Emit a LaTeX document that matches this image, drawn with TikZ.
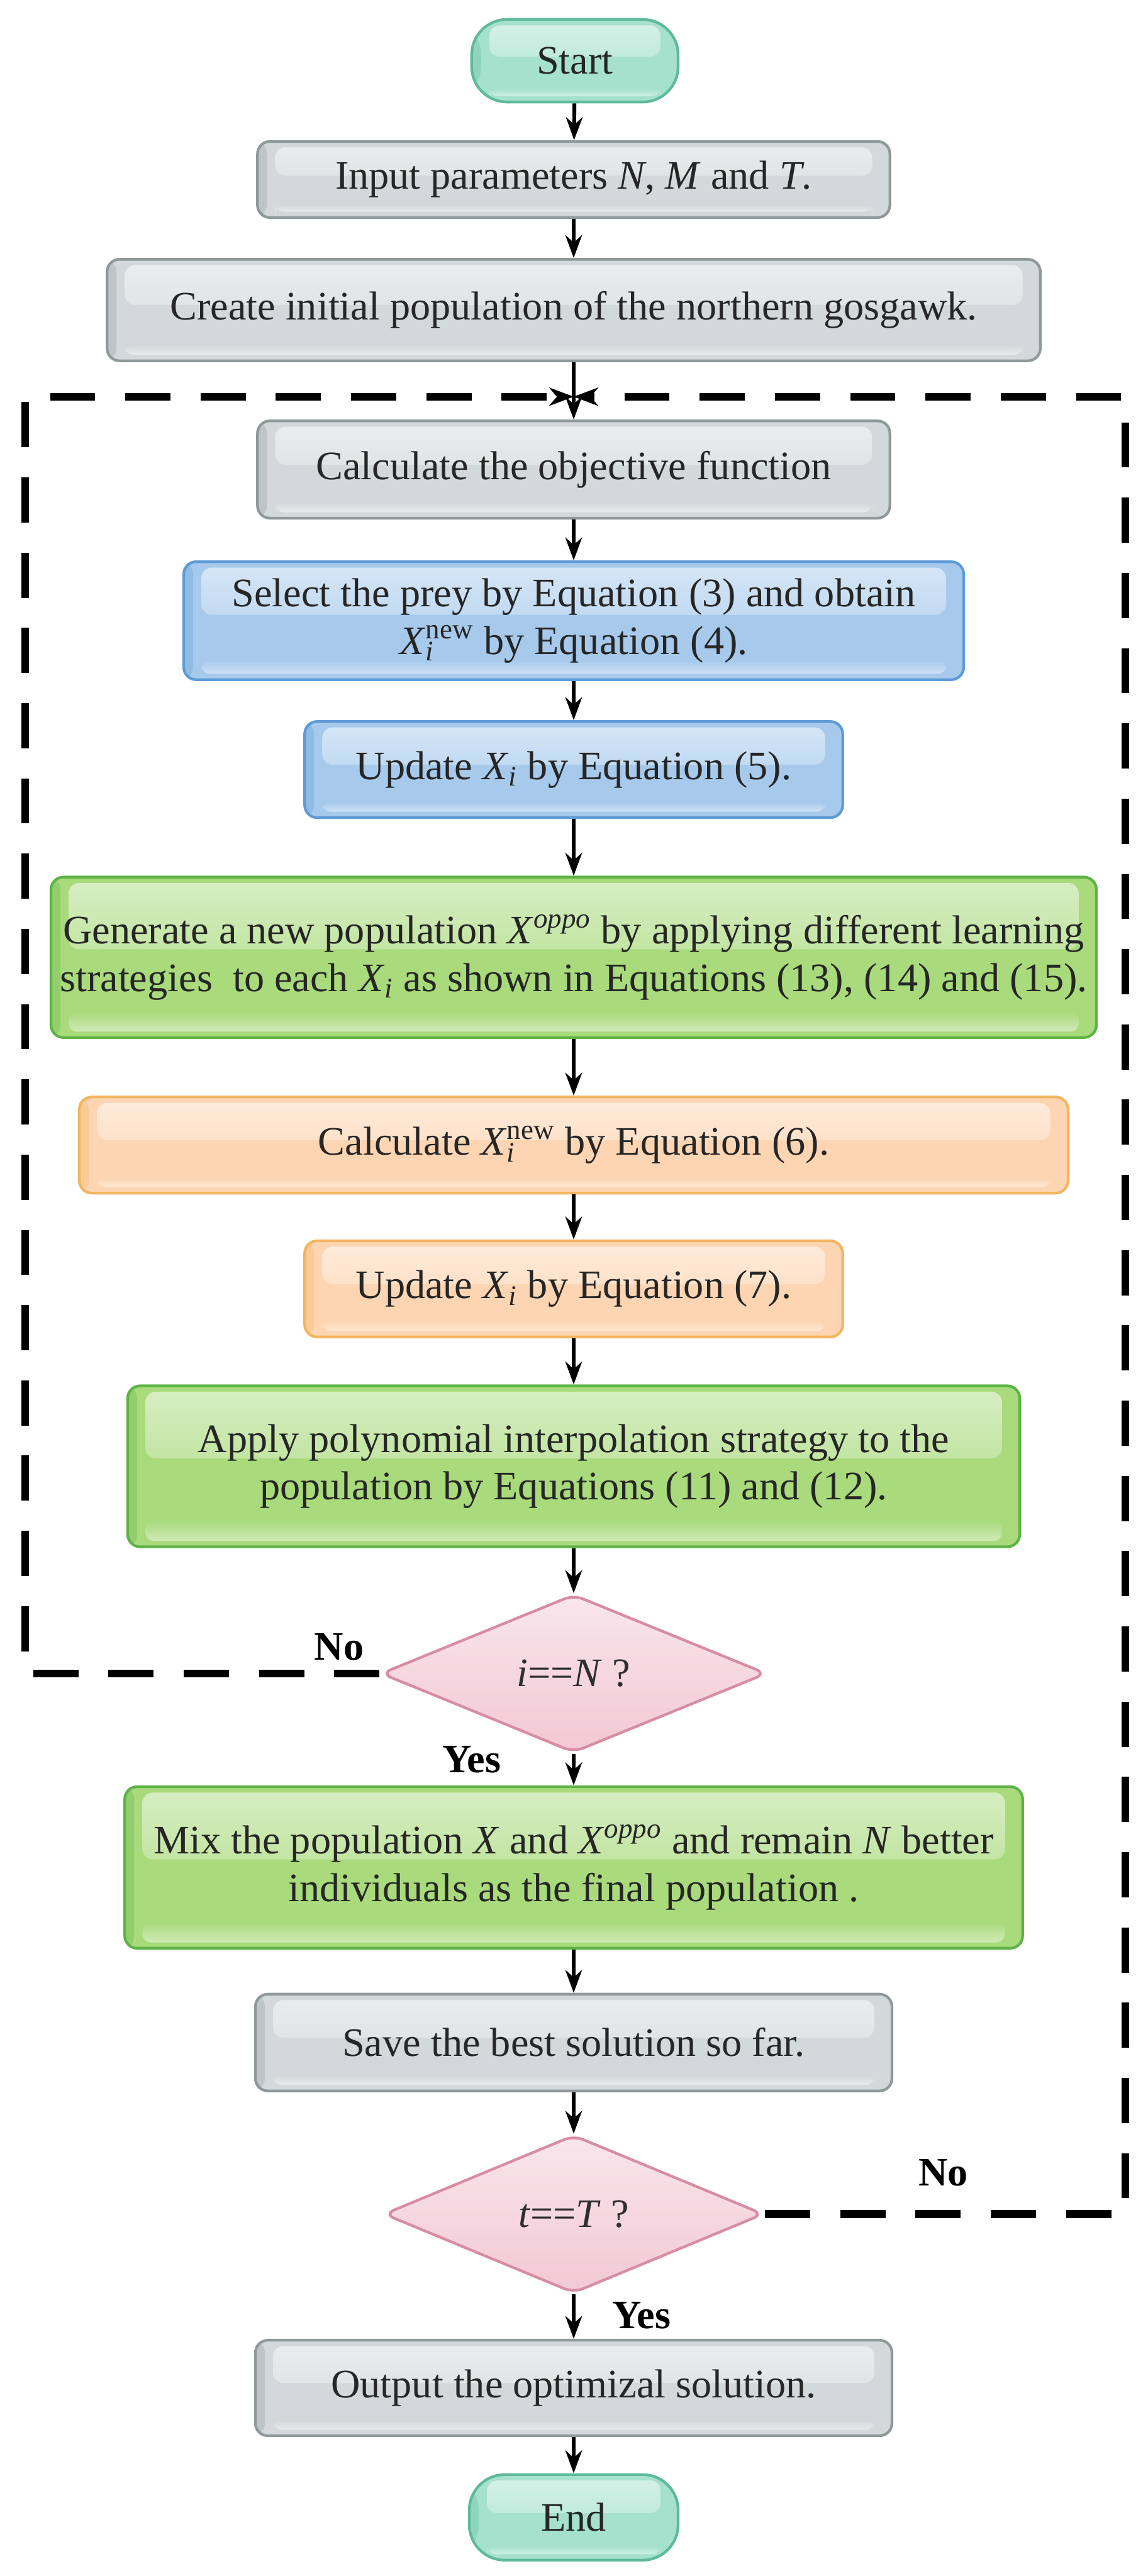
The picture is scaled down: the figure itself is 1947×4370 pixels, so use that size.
\documentclass[tikz,border=0pt]{standalone}
\usepackage{fontspec}
\setmainfont{Liberation Serif}
\usetikzlibrary{shapes.geometric,arrows.meta,calc}

\definecolor{grayF}{HTML}{D3D9DA}
\definecolor{grayD}{HTML}{8F999A}
\definecolor{blueF}{HTML}{A7CAEC}
\definecolor{blueD}{HTML}{5E9BD6}
\definecolor{greenF}{HTML}{A9DA7C}
\definecolor{greenD}{HTML}{5DB346}
\definecolor{orgF}{HTML}{FDD5B2}
\definecolor{orgD}{HTML}{F2B561}
\definecolor{pinkF}{HTML}{F2C8D5}
\definecolor{pinkD}{HTML}{D88CA3}
\definecolor{tealF}{HTML}{A6E1CE}
\definecolor{tealD}{HTML}{5DBA9C}

\newcommand{\XI}{\textit{X}\textsubscript{\textit{i}}}
\newcommand{\XInew}{\textit{X}\rlap{\textsubscript{\textit{i}}}\textsuperscript{new}}
\newcommand{\Xoppo}{\textit{X}\textsuperscript{\textit{oppo}}}

\tikzset{
  pbox/.style 2 args={draw=#2, fill=#1, line width=1.3pt, rounded corners=6pt,
    align=center, inner sep=0pt, text=black!85,
    font=\fontsize{19.5}{23}\selectfont,
    path picture={
      \shade[top color=#1!45!white, bottom color=#1, rounded corners=5pt]
        ([xshift=3mm,yshift=-1mm]path picture bounding box.north west) rectangle
        ($(path picture bounding box.north east)!0.45!(path picture bounding box.south east)+(-3mm,0)$);
      \shade[top color=#1, bottom color=#1!55!white, rounded corners=4pt]
        ($(path picture bounding box.south west)!0.16!(path picture bounding box.north west)+(3mm,0)$) rectangle
        ([xshift=-3mm,yshift=1mm]path picture bounding box.south east);
      \fill[#2, opacity=0.3]
        (path picture bounding box.south west) rectangle
        ([xshift=1.6mm]path picture bounding box.north west);
    }},
  graybox/.style={pbox={grayF}{grayD}},
  bluebox/.style={pbox={blueF}{blueD}},
  greenbox/.style={pbox={greenF}{greenD}},
  orgbox/.style={pbox={orgF}{orgD}},
  termbox/.style={pbox={tealF}{tealD}, rounded corners=6mm},
  decide/.style={shape=diamond, draw=pinkD, line width=1.3pt, rounded corners=5pt,
    top color=pinkF!45!white, bottom color=pinkF, inner sep=0pt,
    text=black!82, font=\fontsize{19.5}{23}\selectfont},
  lab/.style={font=\fontsize{19.5}{23}\selectfont\bfseries, text=black, inner sep=0pt},
  flow/.style={line width=1.8pt, -{Stealth[length=11pt,width=8pt]}},
  loopline/.style={line width=3.7pt, dash pattern=on 21.8pt off 14.5pt,
    -{Stealth[length=12pt,width=9pt,line width=0pt]}}
}

\begin{document}
\begin{tikzpicture}[x=0.01cm,y=-0.01cm]
\useasboundingbox (0,0) rectangle (1947,4370);

\node[termbox, minimum width=3.5cm, minimum height=1.40cm] (start) at (975,103) {Start};
\node[graybox, minimum width=10.72cm, minimum height=1.29cm] (input) at (973,304.5) {Input parameters \textit{N}, \textit{M} and \textit{T}.};
\node[graybox, minimum width=15.82cm, minimum height=1.72cm] (create) at (973,526) {Create initial population of the northern gosgawk.};
\coordinate (join) at (973,673);
\node[graybox, minimum width=10.72cm, minimum height=1.65cm] (calc) at (973,796.5) {Calculate the objective function};
\node[bluebox, minimum width=13.22cm, minimum height=2.00cm] (select) at (973,1053) {Select the prey by Equation (3) and obtain\\ \XInew{} by Equation (4).};
\node[bluebox, minimum width=9.12cm, minimum height=1.63cm] (upd5) at (973,1305.5) {Update \XI{} by Equation (5).};
\node[greenbox, minimum width=17.72cm, minimum height=2.72cm] (gen) at (973,1624) {Generate a new population \Xoppo{} by applying different learning\\ strategies~ to each \XI{} as shown in Equations (13), (14) and (15).};
\node[orgbox, minimum width=16.76cm, minimum height=1.63cm] (calc6) at (973,1942.5) {Calculate \XInew{} by Equation (6).};
\node[orgbox, minimum width=9.12cm, minimum height=1.63cm] (upd7) at (973,2186.5) {Update \XI{} by Equation (7).};
\node[greenbox, minimum width=15.12cm, minimum height=2.73cm] (apply) at (973,2487.5) {Apply polynomial interpolation strategy to the\\ population by Equations (11) and (12).};
\node[decide, minimum width=6.54cm, minimum height=2.68cm] (d1) at (973,2839) {\textit{i}==\textit{N} ?};
\node[greenbox, minimum width=15.22cm, minimum height=2.74cm] (mix) at (973,3168) {Mix the population \textit{X} and \Xoppo{} and remain \textit{N} better\\ individuals as the final population .};
\node[graybox, minimum width=10.79cm, minimum height=1.64cm] (save) at (973,3465) {Save the best solution so far.};
\node[decide, minimum width=6.44cm, minimum height=2.68cm] (d2) at (973,3756) {\textit{t}==\textit{T} ?};
\node[graybox, minimum width=10.79cm, minimum height=1.62cm] (out) at (973,4051) {Output the optimizal solution.};
\node[termbox, minimum width=3.54cm, minimum height=1.45cm] (end) at (973,4270.5) {End};

\node[lab] (no1) at (575,2794) {No};
\node[lab] (yes1) at (800,2985) {Yes};
\node[lab] (no2) at (1600,3686) {No};
\node[lab] (yes2) at (1088,3928) {Yes};

\draw[flow] (start) -- (input);
\draw[flow] (input) -- (create);
\draw[flow] (create) -- (calc);
\draw[flow] (calc) -- (select);
\draw[flow] (select) -- (upd5);
\draw[flow] (upd5) -- (gen);
\draw[flow] (gen) -- (calc6);
\draw[flow] (calc6) -- (upd7);
\draw[flow] (upd7) -- (apply);
\draw[flow] (apply) -- (d1);
\draw[flow] (d1) -- (mix);
\draw[flow] (mix) -- (save);
\draw[flow] (save) -- (d2);
\draw[flow] (d2) -- (out);
\draw[flow] (out) -- (end);

\coordinate (c1) at (43,2839);
\coordinate (c2) at (43,673);
\coordinate (c3) at (1909,3756);
\coordinate (c4) at (1909,673);
\draw[loopline] (d1.west) -- (c1) -- (c2) -- (join);
\draw[loopline] (d2.east) -- (c3) -- (c4) -- (join);
\end{tikzpicture}
\end{document}
